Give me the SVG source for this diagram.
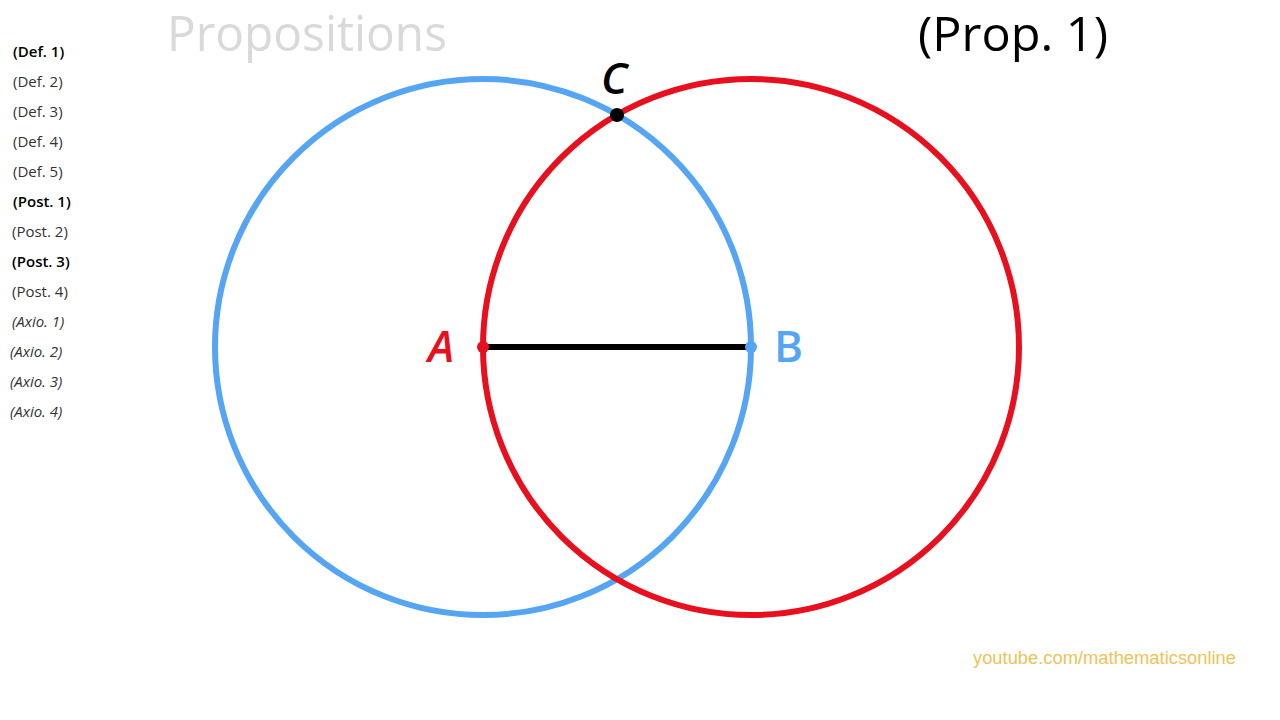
<svg xmlns="http://www.w3.org/2000/svg" width="1280" height="720" viewBox="0 0 1280 720">
<style>
.side{font-family:"Open Sans","DejaVu Sans",sans-serif;font-size:15px;fill:#333}
.side.b{fill:#000;font-weight:600}
.side.i{font-style:italic}
.lbl{font-family:"Open Sans","DejaVu Sans",sans-serif;font-size:44px;font-style:italic;font-weight:600}
</style>
<rect width="1280" height="720" fill="#ffffff"/>
<text x="167" y="51" font-family="Open Sans, DejaVu Sans, sans-serif" font-size="50" fill="#d9d9d9" textLength="280" lengthAdjust="spacingAndGlyphs">Propositions</text>
<text x="918" y="51" font-family="Open Sans, DejaVu Sans, sans-serif" font-size="48" fill="#000" textLength="190" lengthAdjust="spacingAndGlyphs">(Prop. 1)</text>
<g id="sidebar">
<text class="side b" x="13" y="57">(Def. 1)</text>
<text class="side" x="13" y="87">(Def. 2)</text>
<text class="side" x="13" y="117">(Def. 3)</text>
<text class="side" x="13" y="147">(Def. 4)</text>
<text class="side" x="13" y="177">(Def. 5)</text>
<text class="side b" x="13" y="207">(Post. 1)</text>
<text class="side" x="12" y="237">(Post. 2)</text>
<text class="side b" x="12" y="267">(Post. 3)</text>
<text class="side" x="12" y="297">(Post. 4)</text>
<text class="side i" x="12" y="327">(Axio. 1)</text>
<text class="side i" x="10" y="357">(Axio. 2)</text>
<text class="side i" x="10" y="387">(Axio. 3)</text>
<text class="side i" x="10" y="417">(Axio. 4)</text>
</g>
<g id="circles" fill="none" stroke-width="6">
<circle id="circleA" cx="483" cy="347" r="268" stroke="#55a5f2"/>
<circle id="circleB" cx="751" cy="347" r="268" stroke="#e8101e"/>
</g>
<g id="connectors">
<line x1="483" y1="347" x2="751" y2="347" stroke="#000" stroke-width="6"/>
</g>
<g id="A">
<circle cx="483" cy="347" r="6" fill="#e8101e"/>
<text class="lbl" x="428" y="362" fill="#e8101e">A</text>
</g>
<g id="B">
<circle cx="751" cy="347" r="6" fill="#55a5f2"/>
<text class="lbl" x="774" y="362" fill="#55a5f2" style="font-style:normal">B</text>
</g>
<g id="C">
<circle cx="617" cy="115" r="7" fill="#000"/>
<text class="lbl" x="601" y="94" fill="#000">C</text>
</g>
<text x="973" y="664" font-family="Liberation Sans, sans-serif" font-size="18" fill="#f0c256" textLength="263" lengthAdjust="spacingAndGlyphs">youtube.com/mathematicsonline</text>
</svg>
